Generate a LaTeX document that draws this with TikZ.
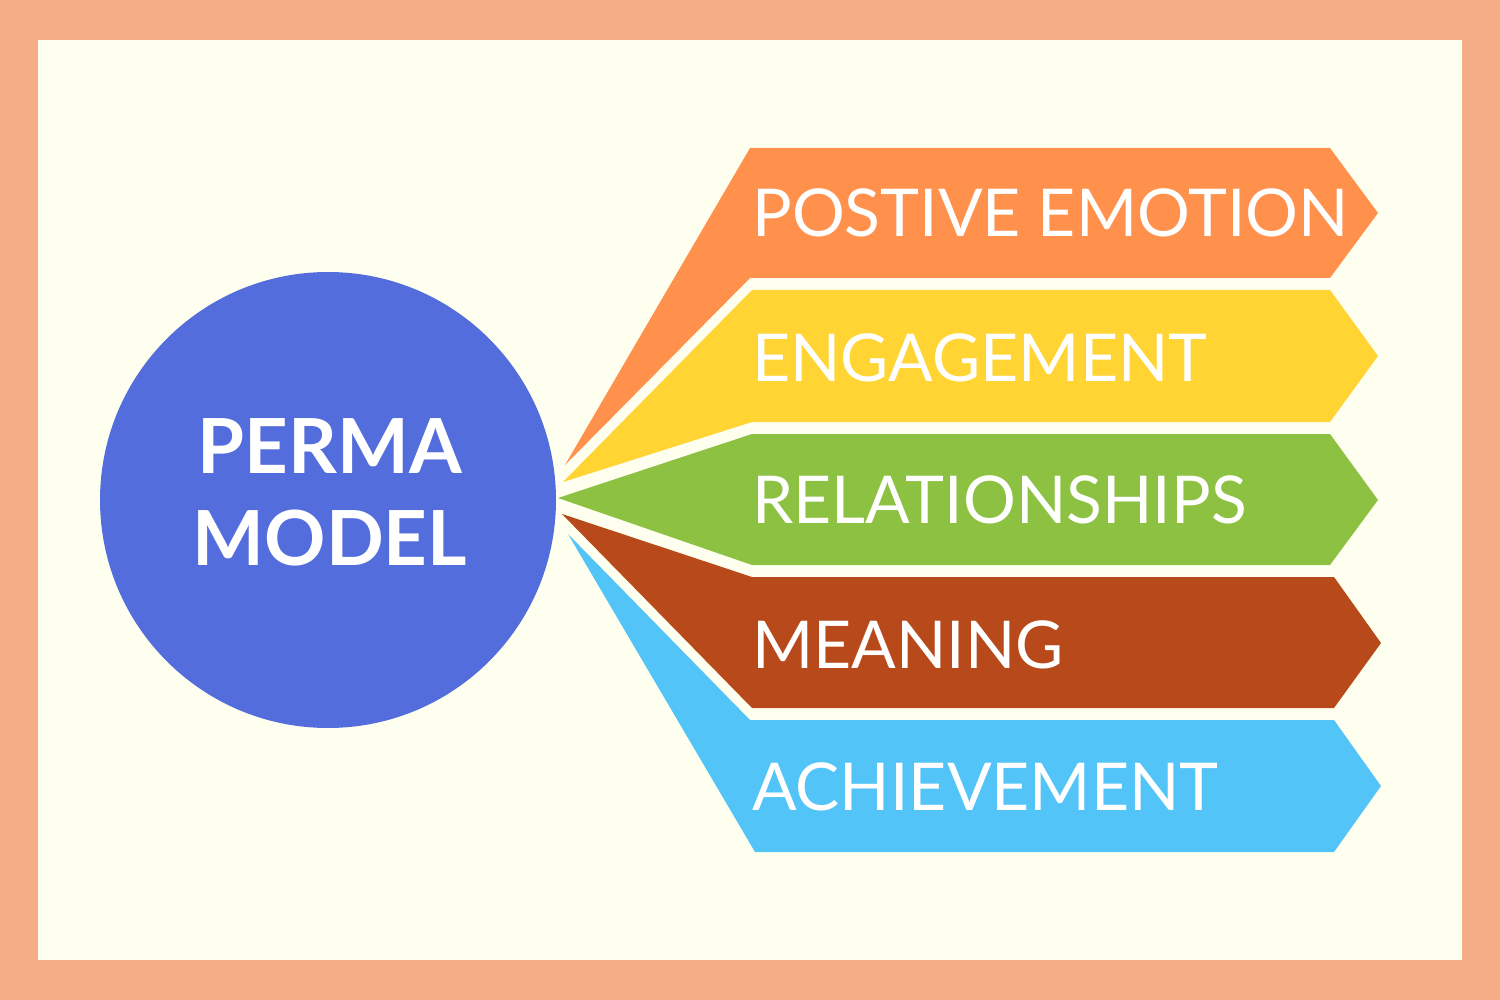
\documentclass[tikz,border=0pt]{standalone}
\usepackage{fontspec}
\setmainfont{Lato}
\begin{document}
\begin{tikzpicture}[x=0.5pt,y=-0.5pt,
  lab/.style={anchor=west,text=white,font=\fontsize{33}{36}\selectfont,inner sep=0pt}]
\definecolor{frame}{HTML}{F5AD85}
\definecolor{bg}{HTML}{FFFFF0}
\definecolor{cp}{HTML}{FF914D}
\definecolor{cy}{HTML}{FFD433}
\definecolor{cg}{HTML}{8CC142}
\definecolor{cb}{HTML}{B7491A}
\definecolor{cl}{HTML}{52C4F8}
\definecolor{cc}{HTML}{546DDC}
\fill[frame] (0,0) rectangle (1500,1000);
\fill[bg] (38,40) rectangle (1462,960);
\fill[cc] (328,500) circle[radius=228];
\node[text=white,font=\bfseries\fontsize{38}{40}\selectfont,align=center] (c) at (330,492) {PERMA\\[6pt]MODEL};
\fill[cp] (565,465) -- (750,148) -- (1330,148) -- (1378,213) -- (1330,278) -- (750,278) -- cycle;
\fill[cy] (563,482) -- (752,290) -- (1330,290) -- (1378,356) -- (1330,422) -- (752,422) -- cycle;
\fill[cg] (558,498) -- (752,434) -- (1330,434) -- (1378,500) -- (1330,565) -- (752,565) -- cycle;
\fill[cb] (562,514) -- (752,577) -- (1334,577) -- (1381,643) -- (1334,708) -- (752,708) -- cycle;
\fill[cl] (568,534) -- (750,720) -- (1334,720) -- (1381,786) -- (1334,852) -- (755,852) -- cycle;
\node[lab] (p) at (752,213) {POSTIVE EMOTION};
\node[lab] (e) at (752,358) {ENGAGEMENT};
\node[lab] (r) at (752,500) {RELATIONSHIPS};
\node[lab] (m) at (752,645) {MEANING};
\node[lab] (a) at (752,787) {ACHIEVEMENT};
\end{tikzpicture}
\end{document}
